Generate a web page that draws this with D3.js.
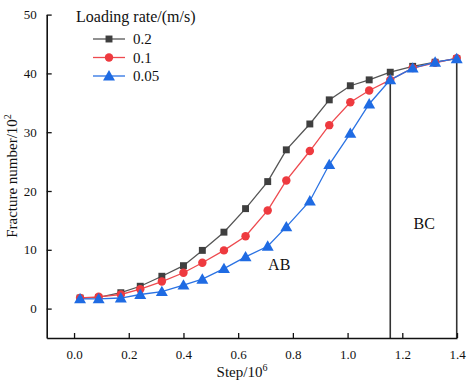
<!DOCTYPE html>
<html>
<head>
<meta charset="utf-8">
<script src="https://cdn.jsdelivr.net/npm/d3@7"></script>
<style>
  html, body { margin: 0; padding: 0; background: #fff; }
  svg text { font-family: "Liberation Serif", "Times New Roman", serif; fill: #111; }
</style>
</head>
<body>
<svg id="chart" width="474" height="389"></svg>
<script>
// ---- data ----
const steps = [0.022, 0.090, 0.171, 0.242, 0.321, 0.400, 0.469, 0.548, 0.627, 0.708, 0.776, 0.862, 0.933, 1.010, 1.079, 1.156, 1.238, 1.320, 1.399];
const rate02  = [1.8, 1.9, 2.7, 3.8, 5.5, 7.3, 9.9, 13.0, 17.0, 21.6, 27.0, 31.4, 35.5, 37.9, 38.9, 40.2, 41.2, 41.9, 42.5];
const rate01  = [1.8, 2.0, 2.4, 3.3, 4.6, 6.1, 7.8, 9.9, 12.3, 16.7, 21.8, 26.8, 31.2, 35.1, 37.1, 38.9, 40.9, 41.8, 42.6];
const rate005 = [1.65, 1.65, 1.8, 2.4, 2.9, 4.0, 5.0, 6.8, 8.8, 10.6, 13.9, 18.3, 24.5, 29.8, 34.8, 38.9, 40.9, 41.9, 42.5];
const seriesNames = ["0.2", "0.1", "0.05"];
const xTicks = [0.0, 0.2, 0.4, 0.6, 0.8, 1.0, 1.2, 1.4];
const yTicks = [0, 10, 20, 30, 40, 50];
const boundaries = [{x: 1.156, top: 38.9}, {x: 1.399, top: 42.5}];
const regionLabels = [{text: "AB", x: 0.75, y: 6.5}, {text: "BC", x: 1.28, y: 13.5}];

// ---- layout ----
const svg = d3.select("#chart");
const x = d3.scaleLinear().domain([-0.1, 1.4]).range([46.7, 457]);
const y = d3.scaleLinear().domain([-5, 50]).range([338, 14.6]);

const colors = ["#3f3f3f", "#ee3a3f", "#1f6be3"];
const lineColors = ["#555555", "#ee4a4f", "#2a72e3"];
const shapes = [d3.symbolSquare, d3.symbolCircle, d3.symbolTriangle];
const sizes = [48, 56, 62];
const data = [rate02, rate01, rate005];

// boundary lines
svg.selectAll("line.bnd").data(boundaries).join("line")
  .attr("class", "bnd")
  .attr("x1", d => x(d.x)).attr("x2", d => x(d.x))
  .attr("y1", d => y(d.top)).attr("y2", y(-5))
  .attr("stroke", "#333").attr("stroke-width", 1.6);

// axes
const xAxis = d3.axisBottom(x).tickValues(xTicks).tickFormat(d3.format(".1f")).tickSizeInner(-5).tickSizeOuter(0).tickPadding(12);
const gx = svg.append("g").attr("transform", `translate(0,${y(-5)})`).call(xAxis);
gx.select(".domain").attr("stroke", "#111").attr("stroke-width", 1.6);
gx.selectAll(".tick line").attr("stroke", "#111").attr("stroke-width", 1.3);
gx.selectAll(".tick text").attr("font-size", 13).attr("font-family", "Liberation Serif").attr("fill", "#111");

const yAxis = d3.axisLeft(y).tickValues(yTicks).tickFormat(d3.format("d")).tickSizeInner(-5).tickSizeOuter(0).tickPadding(10);
const gy = svg.append("g").attr("transform", `translate(${x(-0.1)},0)`).call(yAxis);
gy.select(".domain").attr("stroke", "#111").attr("stroke-width", 1.6);
gy.selectAll(".tick line").attr("stroke", "#111").attr("stroke-width", 1.3);
gy.selectAll(".tick text").attr("font-size", 13).attr("font-family", "Liberation Serif").attr("fill", "#111");

// series
const line = d3.line().x((d, i) => x(steps[i])).y(d => y(d));
data.forEach((vals, k) => {
  svg.append("path").datum(vals).attr("d", line)
    .attr("fill", "none").attr("stroke", lineColors[k]).attr("stroke-width", 1.3);
});
data.forEach((vals, k) => {
  svg.append("g").selectAll("path").data(vals).join("path")
    .attr("transform", (d, i) => `translate(${x(steps[i])},${y(d) + (k === 2 ? 1 : 0)})`)
    .attr("d", d3.symbol().type(shapes[k]).size(sizes[k]))
    .attr("fill", colors[k]);
});

// region labels
svg.selectAll("text.reg").data(regionLabels).join("text")
  .attr("class", "reg")
  .attr("x", d => x(d.x)).attr("y", d => y(d.y))
  .attr("text-anchor", "middle").attr("font-size", 16).text(d => d.text);

// axis titles
const xt = svg.append("text").attr("x", 242).attr("y", 377).attr("text-anchor", "middle").attr("font-size", 15);
xt.append("tspan").text("Step/10");
xt.append("tspan").attr("dy", -6).attr("font-size", 10).text("6");

const yt = svg.append("text").attr("transform", "translate(17,176) rotate(-90)").attr("text-anchor", "middle").attr("font-size", 15);
yt.append("tspan").text("Fracture number/10");
yt.append("tspan").attr("dy", -6).attr("font-size", 10).text("2");

// legend
const legend = svg.append("g");
legend.append("text").attr("x", 76).attr("y", 22).attr("font-size", 16).text("Loading rate/(m/s)");
const rows = legend.selectAll("g.row").data(seriesNames).join("g")
  .attr("class", "row")
  .attr("transform", (d, i) => `translate(0,${39 + i * 18.5})`);
rows.append("line").attr("x1", 93).attr("x2", 125).attr("y1", 0).attr("y2", 0)
  .attr("stroke", (d, i) => lineColors[i]).attr("stroke-width", 1.3);
rows.append("path").attr("transform", (d, i) => `translate(109,${i === 2 ? 1 : 0})`)
  .attr("d", (d, i) => d3.symbol().type(shapes[i]).size(sizes[i])())
  .attr("fill", (d, i) => colors[i]);
rows.append("text").attr("x", 133).attr("y", 5).attr("font-size", 15).text(d => d);
</script>
</body>
</html>
